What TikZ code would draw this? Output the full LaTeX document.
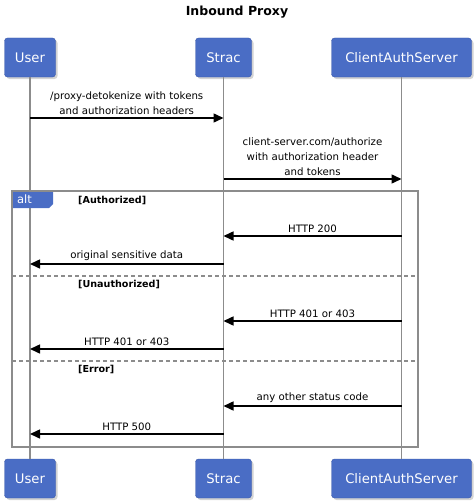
\documentclass[tikz,border=0pt]{standalone}
\usepackage{fontspec}
\setmainfont{DejaVu Sans}
\usetikzlibrary{arrows.meta,shadows}
\definecolor{boxblue}{HTML}{4A6DC5}
\definecolor{boxedge}{HTML}{3A58A8}
\definecolor{linegray}{HTML}{8C8C8C}
\begin{document}
\begin{tikzpicture}[x=1pt,y=-1pt,
  actor/.style={draw=boxedge, fill=boxblue, rounded corners=3pt, text=white,
    font=\fontsize{13.2}{15}\selectfont, minimum height=39pt, inner sep=0pt,
    drop shadow={shadow xshift=2pt, shadow yshift=-2pt, opacity=0.35}},
  life/.style={draw=linegray, line width=1.5pt},
  msg/.style={draw=black, line width=1.5pt, -{Triangle[length=10pt,width=9pt]}},
  lbl/.style={font=\fontsize{10.2}{15}\selectfont, align=center, inner sep=1pt},
  guard/.style={font=\bfseries\fontsize{9.6}{11}\selectfont, anchor=west, inner sep=0pt},
  frame/.style={draw=linegray, line width=1.5pt},
  sep/.style={draw=linegray, line width=1.2pt, dash pattern=on 4pt off 3pt}]
\useasboundingbox (0,0) rectangle (474,503);
\def\xu{30}\def\xs{223.5}\def\xc{401.5}
% title
\node[font=\bfseries\fontsize{12.5}{14}\selectfont] (title) at (237,12) {Inbound Proxy};
% participants
\node[actor, minimum width=51pt] (userT) at (\xu,57.5) {User};
\node[actor, minimum width=56pt] (stracT) at (\xs,57.5) {Strac};
\node[actor, minimum width=140pt] (casT) at (\xc,57.5) {ClientAuthServer};
\node[actor, minimum width=51pt] (userB) at (\xu,478.5) {User};
\node[actor, minimum width=56pt] (stracB) at (\xs,478.5) {Strac};
\node[actor, minimum width=140pt] (casB) at (\xc,478.5) {ClientAuthServer};
% lifelines
\draw[life] (userT) -- (userB);
\draw[life] (stracT) -- (stracB);
\draw[life] (casT) -- (casB);
% alt frame
\coordinate (fTL) at (12,191);
\coordinate (fBR) at (418,447);
\fill[boxblue] (12,191) -- (53,191) -- (53,204) -- (49,208) -- (12,208) -- cycle;
\node[text=white, font=\fontsize{11.5}{13}\selectfont, inner sep=0pt] (alt) at (24.5,199.5) {alt};
\draw[frame] (fTL) rectangle (fBR);
\coordinate (s1L) at (12,276); \coordinate (s1R) at (418,276);
\coordinate (s2L) at (12,361); \coordinate (s2R) at (418,361);
\draw[sep] (s1L) -- (s1R);
\draw[sep] (s2L) -- (s2R);
\node[guard] (g1) at (78,200) {[Authorized]};
\node[guard] (g2) at (78,284) {[Unauthorized]};
\node[guard] (g3) at (78,369) {[Error]};
% message anchor points
\coordinate (u1) at (\xu,118);  \coordinate (s1) at (\xs,118);
\coordinate (s2) at (\xs,179);  \coordinate (c2) at (\xc,179);
\coordinate (c3) at (\xc,236);  \coordinate (s3) at (\xs,236);
\coordinate (s4) at (\xs,264);  \coordinate (u4) at (\xu,264);
\coordinate (c5) at (\xc,321);  \coordinate (s5) at (\xs,321);
\coordinate (s6) at (\xs,349);  \coordinate (u6) at (\xu,349);
\coordinate (c7) at (\xc,406);  \coordinate (s7) at (\xs,406);
\coordinate (s8) at (\xs,434);  \coordinate (u8) at (\xu,434);
% messages
\draw[msg] (u1) -- node[lbl, above=2pt] {/proxy-detokenize with tokens\\and authorization headers} (s1);
\draw[msg] (s2) -- node[lbl, above=2pt] {client-server.com/authorize\\with authorization header\\and tokens} (c2);
\draw[msg] (c3) -- node[lbl, above=2pt] {HTTP 200} (s3);
\draw[msg] (s4) -- node[lbl, above=2pt] {original sensitive data} (u4);
\draw[msg] (c5) -- node[lbl, above=2pt] {HTTP 401 or 403} (s5);
\draw[msg] (s6) -- node[lbl, above=2pt] {HTTP 401 or 403} (u6);
\draw[msg] (c7) -- node[lbl, above=2pt] {any other status code} (s7);
\draw[msg] (s8) -- node[lbl, above=2pt] {HTTP 500} (u8);
\end{tikzpicture}
\end{document}
